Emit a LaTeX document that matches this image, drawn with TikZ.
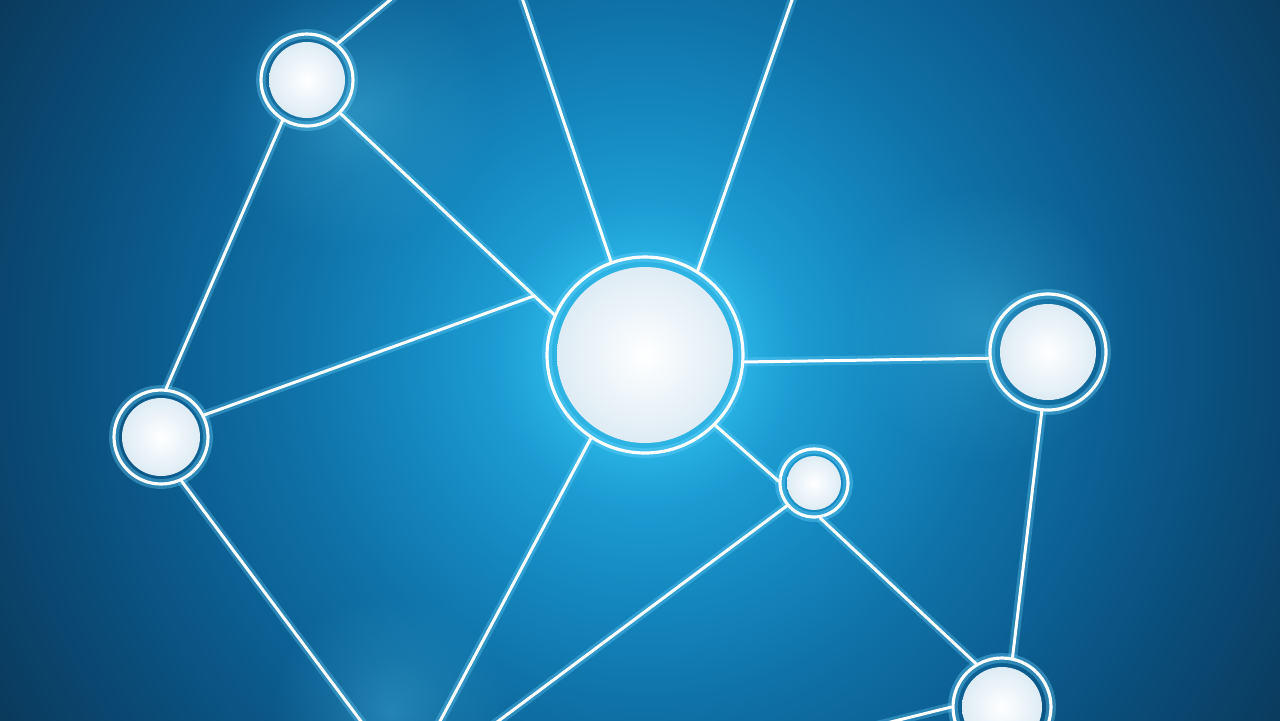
\documentclass[tikz,border=0pt]{standalone}
\usetikzlibrary{fadings,calc}

\definecolor{bgdark}{HTML}{0A3A5C}
\definecolor{bgdeep}{HTML}{0A4C78}
\definecolor{bgmid}{HTML}{0B5A8C}
\definecolor{bgsoft}{HTML}{0F72A8}
\definecolor{bglight}{HTML}{1486BE}
\definecolor{bgbright}{HTML}{1C9CD2}
\definecolor{bgcore}{HTML}{28B0E2}
\definecolor{bgglow}{HTML}{5AD0F5}
\definecolor{discmid}{HTML}{E2EEF6}
\definecolor{discedge}{HTML}{C0D8EA}
\definecolor{linkglow}{HTML}{6FD8FF}

\pgfdeclareradialshading{backglow}{\pgfpoint{0bp}{0bp}}{%
  color(0bp)=(bgglow); color(2.5bp)=(bgcore); color(3.75bp)=(bgbright);
  color(6.25bp)=(bglight); color(8.75bp)=(bgsoft); color(12.5bp)=(bgmid);
  color(15bp)=(bgdeep); color(18.5bp)=(bgdark); color(50bp)=(bgdark)}
\pgfdeclareradialshading{discshade}{\pgfpoint{0bp}{0bp}}{%
  color(0bp)=(white); color(22bp)=(discmid); color(50bp)=(discedge)}
\pgfdeclareradialshading{softglowshade}{\pgfpoint{0bp}{0bp}}{%
  color(0bp)=(white); color(12bp)=(white!40!black); color(25bp)=(black);
  color(50bp)=(black)}
\pgfdeclarefading{softglow}{\pgfuseshading{softglowshade}}

\tikzset{
  ring/.style={circle, draw=white, line width=0.9pt, inner sep=0pt,
    minimum size=#1,
    preaction={draw=linkglow, line width=2.8pt, opacity=.35}},
  link/.style={draw=white, line width=0.85pt, line cap=round,
    preaction={draw=linkglow, line width=2.6pt, opacity=.3}},
  halo/.style={fill=bgglow, path fading=softglow, opacity=#1},
}

\begin{document}
\begin{tikzpicture}[x=0.1mm, y=-0.1mm]

  \useasboundingbox (0,0) rectangle (1280,720);
  \clip (0,0) rectangle (1280,720);

  % background
  \shade[shading=backglow] (645,355) circle (100mm);

  % soft glows
  \fill[halo=.35] (355,110) circle (14mm);
  \fill[halo=.3] (985,325) circle (14mm);
  \fill[halo=.3] (390,712) circle (12mm);

  \begin{scope}
    \node[ring=19.6mm] (hub) at (645,355) {};
    \node[ring=9.2mm] (tl) at (307,80) {};
    \node[ring=9.4mm] (left) at (161,437) {};
    \node[ring=11.6mm] (right) at (1048,352) {};
    \node[ring=6.8mm] (small) at (814,483) {};
    \node[ring=9.8mm] (br) at (1002,707) {};
  \end{scope}

  % discs
  \shade[shading=discshade] (hub) circle (8.8mm);
  \shade[shading=discshade] (tl) circle (3.8mm);
  \shade[shading=discshade] (left) circle (3.9mm);
  \shade[shading=discshade] (right) circle (4.8mm);
  \shade[shading=discshade] (small) circle (2.7mm);
  \shade[shading=discshade] (br) circle (4.0mm);

  % free ends outside the frame, and where two links meet
  \coordinate (tlout) at (442,-43);
  \coordinate (leftout) at (375,740);
  \coordinate (topa) at (516,-20);
  \coordinate (topb) at (799,-20);
  \coordinate (downa) at (430,740);
  \coordinate (downb) at (473,740);
  \coordinate (brout) at (830,737);
  \coordinate (joint) at ($(tl.-45)!0.907!(hub.156)$);

  \begin{scope}[every edge/.style={link}]
    \path (tl.50) edge (tlout);
    \path (tl.-45) edge (hub.156);
    \path (tl.239) edge (left.84);
    \path (left.27) edge (joint);
    \path (left.-65) edge (leftout);
    \path (hub.110) edge (topa);
    \path (hub.58) edge (topb);
    \path (hub.-4) edge (right.186);
    \path (hub.-45) edge (small.177);
    \path (hub.237) edge (downa);
    \path (small.220) edge (downb);
    \path (small.-80) edge (br.121);
    \path (right.264) edge (br.78);
    \path (br.180) edge (brout);
  \end{scope}

\end{tikzpicture}
\end{document}
